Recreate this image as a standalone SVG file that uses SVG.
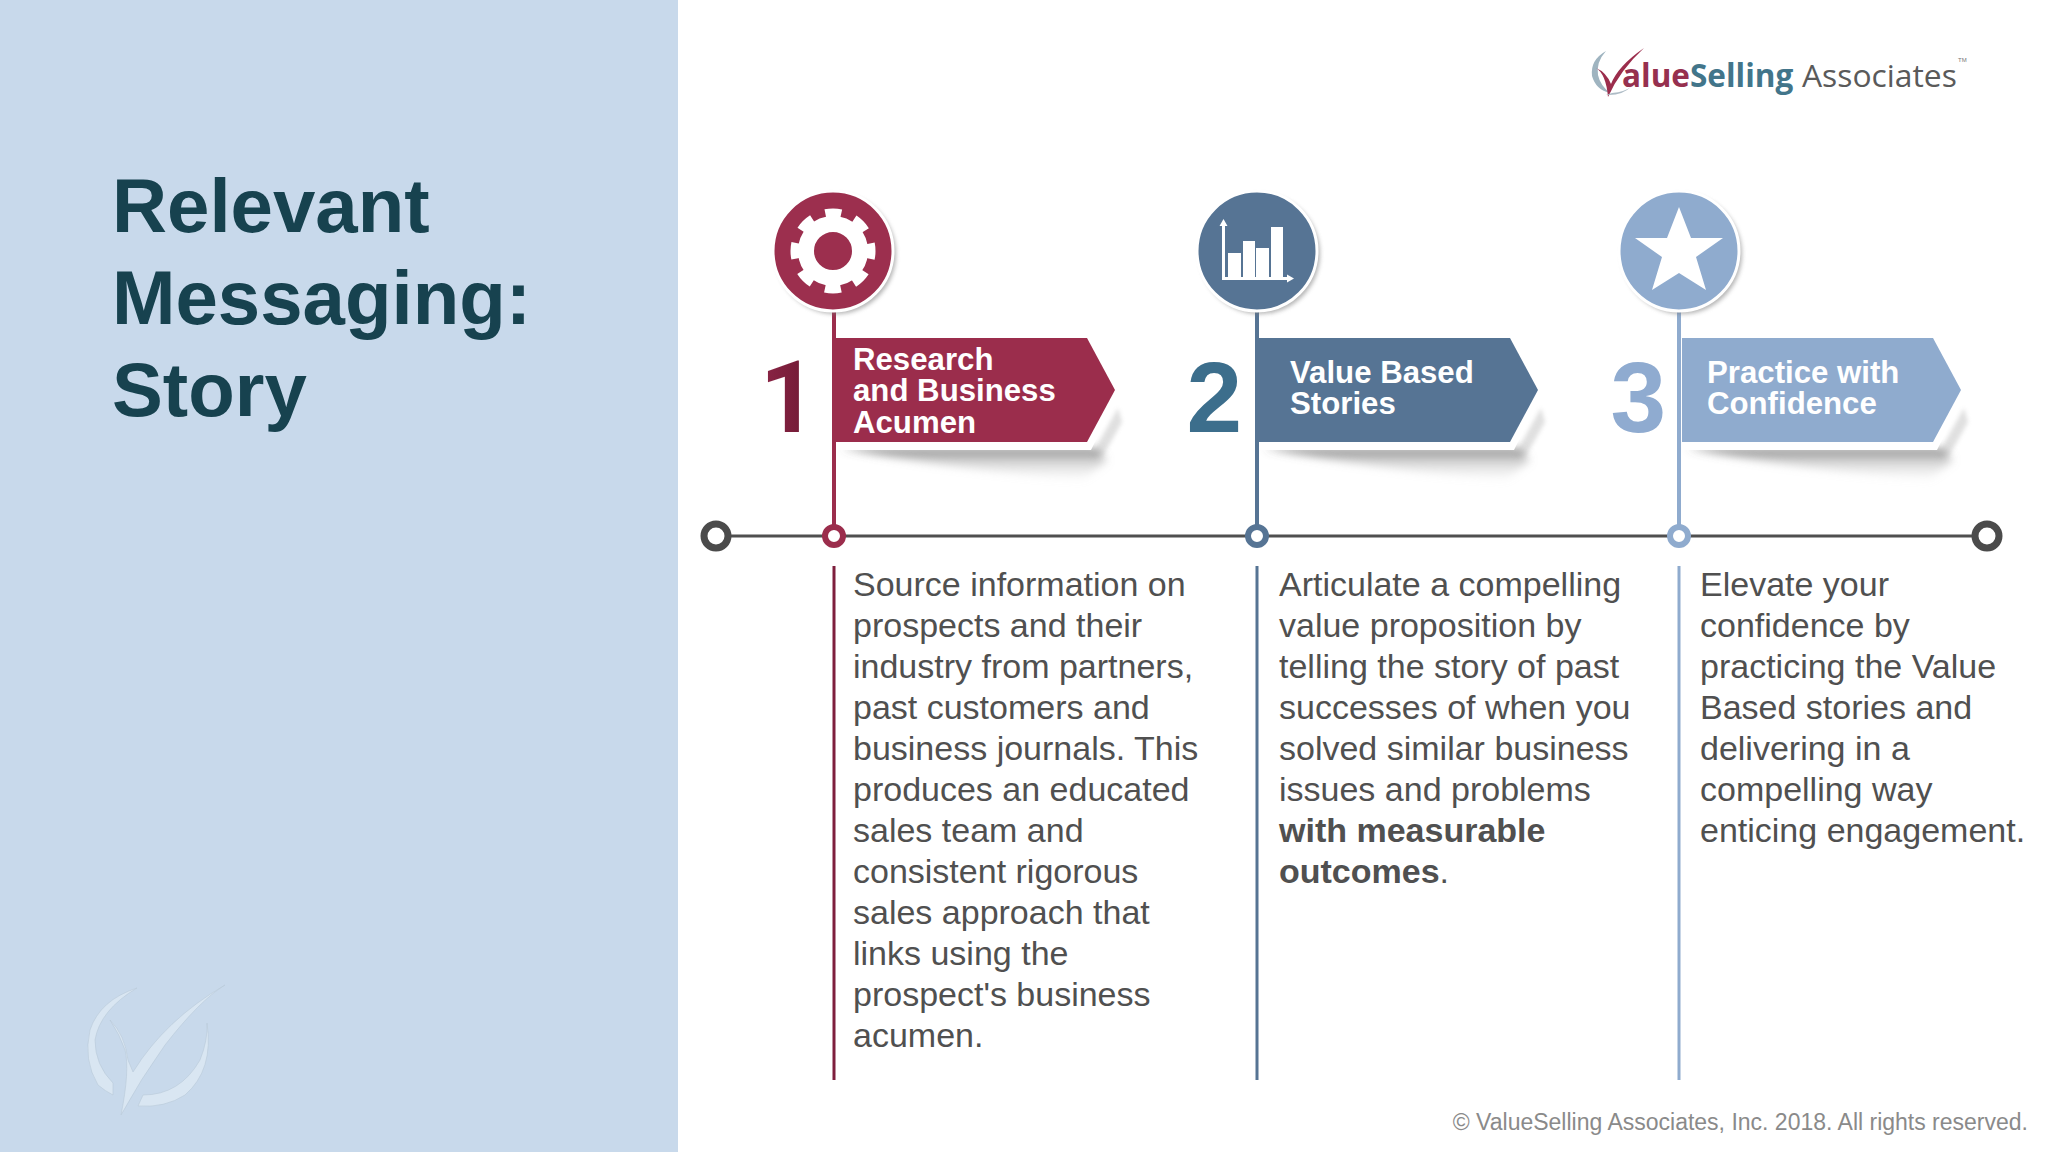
<svg xmlns="http://www.w3.org/2000/svg" width="2048" height="1152" viewBox="0 0 2048 1152">
<defs>
<filter id="blur" x="-20%" y="-50%" width="140%" height="200%"><feGaussianBlur stdDeviation="4"/></filter>
<filter id="soft" x="-30%" y="-30%" width="160%" height="160%"><feGaussianBlur stdDeviation="2"/></filter>
<linearGradient id="sh" x1="0" x2="0" y1="0" y2="1"><stop offset="0" stop-color="#555" stop-opacity=".75"/><stop offset=".4" stop-color="#999" stop-opacity=".45"/><stop offset="1" stop-color="#ccc" stop-opacity=".05"/></linearGradient>
<linearGradient id="dig1" x1="0" x2="1" y1="0" y2="0"><stop offset="0" stop-color="#8c2546"/><stop offset="1" stop-color="#6c1832"/></linearGradient>
<g id="ribbonBack">
<path d="M8 110 L262 110 L274 122 L250 142 Q120 132 8 110Z" fill="url(#sh)" filter="url(#blur)"/>
<path d="M258 118 L285 70 L289 84 L270 118Z" fill="#999" opacity=".3" filter="url(#soft)"/>
<path d="M3 -8H256L288 52L258 112H3Z" fill="#fff"/>
</g>
</defs>
<style>
text{font-family:"Liberation Sans",Arial,sans-serif}
.title{font-size:76.200px;font-weight:700;fill:#17424f}
.num{font-size:100px;font-weight:700}
.lab{font-size:31.200px;font-weight:700;fill:#fff}
.body{font-size:34px;fill:#505050}
.body .b{font-weight:700}
.disc{stroke:#fff;stroke-width:3}
.shade{fill:#777;opacity:.55}
.icon{fill:#fff}
.line{fill:none;stroke-width:4}
.lower{fill:none;stroke-width:3}
.end{fill:#fff;stroke:#4b4b4b;stroke-width:7}
.dot{fill:#fff;stroke-width:6}
.foot{font-size:23px;fill:#8a8a8a}
.logo{font-family:"Open Sans","Liberation Sans",sans-serif;font-size:31.500px}
.logo2{font-family:"Open Sans","Liberation Sans",sans-serif;font-size:31.800px}
</style>
<rect width="2048" height="1152" fill="#fff"/>
<rect id="panel" width="678" height="1152" fill="#c8d9eb"/>
<g id="title"><text class="title" x="112" y="232">Relevant</text><text class="title" x="112" y="324">Messaging:</text><text class="title" x="112" y="416">Story</text></g>
<g id="watermark" fill="#d9e6f2" stroke="#b9c9d8" stroke-width=".6">
<path d="M137 988 Q100 1000 90 1030 Q83 1060 98 1085 Q105 1091 113 1095 L113 1083 Q95 1065 95 1040 Q100 1010 137 988Z"/>
<path d="M110 1020 Q125 1035 128 1060 L133 1072 Q165 1020 225 985 Q200 1000 165 1045 Q140 1080 121 1115 Q130 1070 125 1050 Q120 1035 110 1020Z"/>
<path d="M207 1023 Q214 1070 185 1095 Q165 1108 138 1106 L143 1095 Q180 1095 200 1060 Q208 1040 207 1023Z"/>
</g>
<g id="logo">
<path d="M1606 51 Q1590 60 1592 76 Q1596 90 1610 93 Q1600 85 1598 75 Q1596 62 1606 51Z" fill="#9fb4c0"/>
<path d="M1596 68 Q1606 74 1608 97 Q1620 70 1644 48 Q1618 66 1611 84 Q1606 72 1596 68Z" fill="#9b2d4c"/>
<path d="M1612 93 Q1625 92 1632 86 Q1622 96 1606 95Z" fill="#aebcc6"/>
<text class="logo" x="1622" y="87"><tspan font-weight="700" fill="#96304f">alue</tspan><tspan font-weight="700" fill="#42758a">Selling</tspan></text>
<text class="logo2" x="1802" y="87" fill="#5a5a5a">Associates</text>
<text x="1958" y="62" font-size="6" fill="#777">TM</text>
</g>
<g id="ribbon-backs">
<use href="#ribbonBack" transform="translate(833 338)"/>
<use href="#ribbonBack" transform="translate(1256 338)"/>
<use href="#ribbonBack" transform="translate(1679 338)"/>
</g>
<g id="connectors">
<line x1="716" y1="536" x2="1987" y2="536" stroke="#4f4f4f" stroke-width="3"/>
<path class="line" stroke="#9b2d4c" d="M834 305V530"/><path class="lower" stroke="#7e1f3d" d="M834 566V1080"/>
<path class="line" stroke="#567494" d="M1257 305V530"/><path class="lower" stroke="#567494" d="M1257 566V1080"/>
<path class="line" stroke="#8fabce" d="M1679 305V530"/><path class="lower" stroke="#8fabce" d="M1679 566V1080"/>
</g>
<g id="timeline-ends"><circle class="end" cx="716" cy="536" r="12"/><circle class="end" cx="1987" cy="536" r="12"/></g>
<g id="step1">
<path d="M836 338H1087L1115 390L1087 442H836Z" fill="#9b2d4c"/>
<circle class="shade" cx="836" cy="254" r="60" filter="url(#soft)"/>
<circle class="disc" cx="833" cy="251" r="60" fill="#9c2f4e"/>
<circle cx="833" cy="251" r="27" fill="none" stroke="#fff" stroke-width="16"/>
<circle cx="833" cy="251" r="37" fill="none" stroke="#fff" stroke-width="11" stroke-dasharray="15.5 13.560" stroke-dashoffset="7.750"/>
<text class="num" x="817" y="432" text-anchor="end" fill="url(#dig1)" style="font-family:Roboto,'Liberation Sans',sans-serif">1</text>
<text class="lab"><tspan x="853" y="370">Research</tspan><tspan x="853" y="401">and Business</tspan><tspan x="853" y="433">Acumen</tspan></text>
<circle class="dot" cx="834" cy="536" r="9" stroke="#9b2d4c"/>
<text class="body"><tspan x="853" y="596">Source information on</tspan><tspan x="853" y="637">prospects and their</tspan><tspan x="853" y="678">industry from partners,</tspan><tspan x="853" y="719">past customers and</tspan><tspan x="853" y="760">business journals. This</tspan><tspan x="853" y="801">produces an educated</tspan><tspan x="853" y="842">sales team and</tspan><tspan x="853" y="883">consistent rigorous</tspan><tspan x="853" y="924">sales approach that</tspan><tspan x="853" y="965">links using the</tspan><tspan x="853" y="1006">prospect's business</tspan><tspan x="853" y="1047">acumen.</tspan></text>
</g>
<g id="step2">
<path d="M1259 338H1510L1538 390L1510 442H1259Z" fill="#567494"/>
<circle class="shade" cx="1260" cy="254" r="60" filter="url(#soft)"/>
<circle class="disc" cx="1257" cy="251" r="60" fill="#567494"/>
<g class="icon"><rect x="1222" y="224" width="3" height="56"/><rect x="1222" y="277" width="68" height="3"/><path d="M1223.500 219l4 7h-8ZM1294 278.500l-7-4v8Z"/><rect x="1228" y="253" width="13" height="24"/><rect x="1243" y="241" width="12" height="36"/><rect x="1256" y="248" width="13" height="29"/><rect x="1271" y="227" width="12" height="50"/></g>
<text class="num" x="1242" y="432" text-anchor="end" fill="#3c6e8c">2</text>
<text class="lab"><tspan x="1290" y="383">Value Based</tspan><tspan x="1290" y="414">Stories</tspan></text>
<circle class="dot" cx="1257" cy="536" r="9" stroke="#567494"/>
<text class="body"><tspan x="1279" y="596">Articulate a compelling</tspan><tspan x="1279" y="637">value proposition by</tspan><tspan x="1279" y="678">telling the story of past</tspan><tspan x="1279" y="719">successes of when you</tspan><tspan x="1279" y="760">solved similar business</tspan><tspan x="1279" y="801">issues and problems</tspan><tspan class="b" x="1279" y="842">with measurable</tspan><tspan x="1279" y="883"><tspan class="b">outcomes</tspan>.</tspan></text>
</g>
<g id="step3">
<path d="M1682 338H1933L1961 390L1933 442H1682Z" fill="#8fabce"/>
<circle class="shade" cx="1682" cy="254" r="60" filter="url(#soft)"/>
<circle class="disc" cx="1679" cy="251" r="60" fill="#8fabce"/>
<path class="icon" d="M1679 207L1691 238L1723 238L1696 257L1706 290L1679 273L1652 290L1662 257L1635 238L1667 238Z"/>
<text class="num" x="1666" y="432" text-anchor="end" fill="#8fabd0">3</text>
<text class="lab"><tspan x="1707" y="383">Practice with</tspan><tspan x="1707" y="414">Confidence</tspan></text>
<circle class="dot" cx="1679" cy="536" r="9" stroke="#8fabce"/>
<text class="body"><tspan x="1700" y="596">Elevate your</tspan><tspan x="1700" y="637">confidence by</tspan><tspan x="1700" y="678">practicing the Value</tspan><tspan x="1700" y="719">Based stories and</tspan><tspan x="1700" y="760">delivering in a</tspan><tspan x="1700" y="801">compelling way</tspan><tspan x="1700" y="842">enticing engagement.</tspan></text>
</g>
<text id="footer" class="foot" x="2028" y="1130" text-anchor="end">© ValueSelling Associates, Inc. 2018. All rights reserved.</text>
</svg>
